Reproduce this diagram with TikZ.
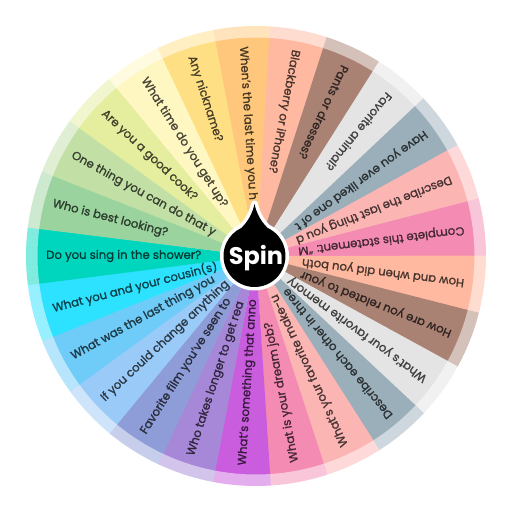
\documentclass[tikz,border=0pt]{standalone}
\usepackage{fontspec}
\setmainfont{Poppins}
\newfontfamily\segfont[FakeBold=1.2]{Poppins}
\definecolor{cred}{HTML}{FBB5B3}
\definecolor{cpink}{HTML}{F48BB3}
\definecolor{cpurple}{HTML}{C95DDE}
\definecolor{cdpurple}{HTML}{A788D8}
\definecolor{cindigo}{HTML}{8E9CD8}
\definecolor{cblue}{HTML}{9ACAF8}
\definecolor{clblue}{HTML}{6FCBF7}
\definecolor{ccyan}{HTML}{2DE2FF}
\definecolor{cteal}{HTML}{00D6BE}
\definecolor{cgreen}{HTML}{9AD39E}
\definecolor{clgreen}{HTML}{C2E0A6}
\definecolor{clime}{HTML}{E5ED9E}
\definecolor{cyellow}{HTML}{FFF7C2}
\definecolor{camber}{HTML}{FFDF84}
\definecolor{corange}{HTML}{FFC77C}
\definecolor{cdorange}{HTML}{FFB9A0}
\definecolor{cbrown}{HTML}{A98274}
\definecolor{cgrey}{HTML}{E4E4E4}
\definecolor{cbgrey}{HTML}{9BAFBA}
\tikzset{
  seglabel/.style={font=\segfont\fontsize{11.7}{12}\selectfont, inner sep=0pt, anchor=west},
  spinlabel/.style={text=white, font=\fontsize{24}{24}\selectfont\bfseries, inner sep=0pt, anchor=base}
}
\begin{document}
\begin{tikzpicture}[x=1pt,y=1pt]
\useasboundingbox (-256,-256) rectangle (256,256);
\foreach \i/\c/\t in {
  0/corange/{When’s the last time you h},
  1/cdorange/{Blackberry or iPhone?},
  2/cbrown/{Pants or dresses?},
  3/cgrey/{Favorite animal?},
  4/cbgrey/{Have you ever liked one of t},
  5/cred/{Describe the last thing you d},
  6/cpink/{Complete this statement: “M},
  7/cdorange/{How and when did you both},
  8/cbrown/{How are you related to your},
  9/cgrey/{What’s your favorite memory},
  10/cbgrey/{Describe each other in three},
  11/cred/{What’s your favorite make-u},
  12/cpink/{What is your dream job?},
  13/cpurple/{What’s something that anno},
  14/cdpurple/{Who takes longer to get rea},
  15/cindigo/{Favorite film you’ve seen to},
  16/cblue/{If you could change anything},
  17/clblue/{What was the last thing you},
  18/ccyan/{What you and your cousin(s)},
  19/cteal/{Do you sing in the shower?},
  20/cgreen/{Who is best looking?},
  21/clgreen/{One thing you can do that y},
  22/clime/{Are you a good cook?},
  23/cyellow/{What time do you get up?},
  24/camber/{Any nickname?}}{
  \pgfmathsetmacro\a{93.6-14.4*\i}
  \pgfmathsetmacro\s{\a-7.3}
  \pgfmathsetmacro\e{\a+7.3}
  \fill[\c] (0,0) -- (\s:219) arc[start angle=\s, end angle=\e, radius=219] -- cycle;
  \fill[\c!50!white] (\s:218.5) arc[start angle=\s, end angle=\e, radius=218.5] -- (\e:230) arc[start angle=\e, end angle=\s, radius=230] -- cycle;
  \node[seglabel, text=\c!28!black, rotate=\a+180] (t\i) at (\a:210) {\t};
}
\begin{scope}[shift={(-1.5,0)}]
  \path[fill=black, preaction={draw=white, line width=7, line join=round}]
    (0,52) .. controls (2,43) and (6,35) .. (65:31)
    arc[start angle=65, end angle=-245, radius=31]
    .. controls (-6,35) and (-2,43) .. (0,52) -- cycle;
\end{scope}
\node[spinlabel] (spin) at (0,-8) {Spin};
\end{tikzpicture}
\end{document}
